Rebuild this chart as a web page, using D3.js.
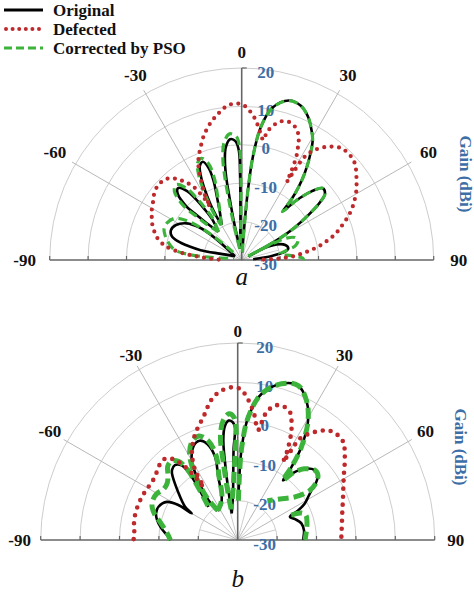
<!DOCTYPE html>
<html>
<head>
<meta charset="utf-8">
<script src="https://cdn.jsdelivr.net/npm/d3@7"></script>
<style>
  body { margin: 0; background: #fff; }
  svg { display: block; }
  text { font-family: "Liberation Serif", "Times New Roman", serif; }
</style>
</head>
<body>
<svg id="chart" width="474" height="594"></svg>
<script>
// ---- data: [angle (deg), gain (dBi)] ----
const legendLabels = ["Original", "Defected", "Corrected by PSO"];
const angleTicks = [-90, -60, -30, 0, 30, 60, 90];
const gainTicks = [-30, -20, -10, 0, 10, 20];
const captions = ["a", "b"];

// panel a
const aOriginal = [
  [[-9,-27],[-11.5,-20],[-11,-13],[-10.6,-8],[-9.5,-3.5],[-8,-0.3],[-5.5,1.6],[-3,1],[-1.5,-1.5],[-1.1,-7.5],[-1.3,-15],[-2.5,-22],[-9,-27]],
  [[-29.7,-19.5],[-24.9,-16.6],[-21.5,-12.5],[-19.5,-7.9],[-19.8,-4.5],[-21.6,-2.5],[-24,-3.2],[-26,-5.8],[-27.7,-9.4],[-29.3,-13.5],[-30,-17],[-29.7,-19.5]],
  [[-39.5,-20.5],[-36,-17],[-36.2,-13.5],[-36.9,-10.5],[-38.5,-7],[-41.5,-5],[-44,-6],[-45.9,-10],[-45,-13.5],[-43.6,-16.8],[-39.5,-20.5]],
  [[-60,-28],[-50.6,-20.4],[-52.5,-16],[-56.3,-12.8],[-62,-10.6],[-67,-10],[-71,-10.7],[-73.5,-12.5],[-75.5,-16],[-76.5,-19],[-74,-24],[-60,-28]],
  [[4,-28],[4.5,-20],[5.1,-11.7],[6.2,-2.9],[8.2,5],[11.5,10.5],[16.5,13.3],[21,13],[25,11],[28.5,8.2],[30.7,6.2],[33.5,2],[36,-2.1],[38,-6],[39.5,-10],[40.2,-13.5],[42.5,-9],[45.5,-4.5],[48.5,-1.8],[51.5,-2.3],[53.5,-4.5],[56,-9],[58.5,-14],[60.5,-19],[62,-28]],
  [[61,-28],[62,-23.5],[66,-20],[71,-18],[76,-17.5],[79,-18.5],[81,-20.5],[83,-22.6],[86,-27]]
];
const aDefected = [
  [[-89,-24],[-87,-20.9],[-85,-17.5],[-83.5,-14.7],[-80,-10.2],[-76.5,-7.8],[-72.9,-6.4],[-68.5,-5],[-64.3,-4],[-60,-3],[-55.8,-2.2],[-52,-1.2],[-48,-0.8],[-45,-0.9],[-42,-1.4],[-39.5,-2.5],[-37.6,-3.7],[-35.5,-5.2],[-33.4,-7.1],[-32,-9.5],[-31,-12],[-30.7,-13.9],[-29.5,-10.5],[-27.5,-7.5],[-26,-5],[-24.2,-2.4],[-22.5,-0.8],[-20.8,0.6],[-17,3.8],[-13,6.5],[-10.5,7.9],[-8.3,9],[-5.5,10.3],[-2.4,10.8],[0.5,10.4],[2.5,9.3],[5,7.3],[7.1,5],[9.2,2.5],[10.2,1.7],[11,3.5],[12.1,5],[15.5,7.4],[19,8],[22,7.3],[24,6.1],[25.5,4.5],[26.4,3],[27.9,0.4],[28.8,-2.3],[29.5,-4.5],[30,-6.5],[30.5,-3.5],[31.4,1.5],[33.6,4.4],[37.3,7.1],[41.7,9],[46.7,9.2],[50,8.6],[52.9,7.4],[55.7,6.2],[58.6,5],[62,3.3],[65.5,1.4],[68.5,-0.6],[71.5,-2.7],[74.5,-4.7],[77,-6.9],[79.5,-9.2],[81.8,-11.7],[84,-14.3],[86.2,-17],[88,-21],[89,-25]]
];
const aCorrected = [
  [[-10,-27],[-12.5,-20],[-12,-13],[-11.5,-8],[-10.5,-3],[-8.5,1],[-5.5,3],[-2.5,2.2],[-1,-1],[-0.6,-7.5],[-0.8,-15],[-2,-22],[-10,-27]],
  [[-30.5,-19.5],[-24,-16],[-20.5,-12],[-18.5,-7.5],[-19,-3.5],[-21.6,-1.5],[-24.5,-2.3],[-27,-5.5],[-28.7,-9.4],[-30.3,-13.5],[-31,-17],[-30.5,-19.5]],
  [[-39.5,-20.5],[-35,-17],[-35.2,-13.5],[-35.9,-10.5],[-37.5,-6.5],[-41,-4],[-44.5,-5],[-47,-9.5],[-46,-13.5],[-44.6,-16.8],[-39.5,-20.5]],
  [[-48,-27],[-50,-20],[-53.7,-13.3],[-58,-9.5],[-63.6,-8.3],[-68,-8.2],[-72,-9],[-77,-10.5],[-81.5,-12.4],[-84,-16],[-85,-22],[-80,-28]],
  [[4,-28],[4.5,-20],[5.1,-11.7],[6.2,-2.9],[8.2,5],[11.5,10.5],[16.5,13.3],[21,13],[25,11],[28.5,8.2],[30.7,6.2],[33.5,2],[36,-2.1],[38,-6],[39.5,-10],[40.2,-13.5],[42.5,-9],[45.5,-4.5],[48.5,-1.8],[51.5,-2.3],[53.5,-4.5],[56,-9],[58.5,-14],[60.5,-19],[62,-28]],
  [[60,-28],[62,-21],[64,-17],[67,-15],[71,-14.5],[75,-15.5],[78,-18],[81,-20],[85,-17],[88.5,-14],[90,-14]]
];

// panel b
const bOriginal = [
  [[-12.7,-23.1],[-11,-19],[-9.8,-13],[-8.2,-4.4],[-6.5,-1],[-4.3,0.4],[-2.5,0],[-1.4,-1.3],[-2.6,-7],[-3.8,-13],[-6,-18.5],[-12.7,-23.1]],
  [[-35,-21],[-36.3,-17.4],[-33,-11],[-29.9,-6.6],[-25,-3.6],[-21,-3],[-17.5,-4.5],[-15.2,-8.1],[-17,-13],[-20.3,-18.3],[-26,-20.3],[-35,-21]],
  [[-41.4,-18.8],[-37.5,-14.4],[-36,-9],[-37,-6.3],[-40,-5.2],[-43,-5.6],[-44.7,-6.3],[-51,-10.5],[-57.7,-14.2],[-59.9,-16.5],[-59.5,-12.5],[-61.7,-9.6],[-67.2,-8.2],[-72,-8.2],[-76,-8.9],[-81,-10.3],[-86,-12],[-90,-13]],
  [[1,-19],[1.5,-14],[2.5,-6.4],[4.9,1.3],[9.3,7.6],[15.7,11.2],[21.4,12.1],[26.2,9.5],[30.5,5.2],[34.4,-1.4],[36.4,-7],[37.2,-11],[39.5,-8],[43,-5.3],[47.8,-3.6],[51,-3.8],[54,-5.5],[56,-7.4],[58.5,-9],[61.4,-10.6],[64,-13],[66,-15.5],[70,-14.5],[75.4,-13.3],[82,-13],[86,-13.2],[90,-13.4]]
];
const bDefected = [
  [[-89.5,-3.6],[-86,-3.7],[-82,-3.4],[-77,-3.2],[-72,-3.2],[-67,-3.3],[-62,-3.5],[-57,-3.7],[-53,-3.6],[-49,-3],[-45.5,-2.4],[-42,-2.3],[-40,-2.9],[-38,-4.3],[-35.7,-7.1],[-34,-10.5],[-32.8,-14],[-31.4,-9.2],[-27.9,-5.2],[-24,-2.3],[-20,0],[-15.6,2.4],[-12.5,4.8],[-9.7,6.8],[-6,8.2],[-2.2,8.8],[0.5,8.5],[2.2,7.6],[4,6],[6,3.9],[8,1.5],[9.5,-0.9],[10.6,-1.6],[11.5,0.5],[12.7,3.3],[14.5,4.8],[16.1,5.6],[18.1,5.9],[20,5.7],[22.2,5.1],[24.2,3.3],[26.1,1],[27.5,-1.2],[28.5,-3.1],[29.5,-5],[30.2,-7.1],[30.8,-3.5],[31.5,0.2],[33.5,2.2],[35.5,3.7],[37.5,5],[39.5,6.1],[42.5,6.7],[45.6,6.8],[48,6.3],[50.5,5.2],[54.4,3.4],[58,1.8],[62,0.4],[67.7,-1.1],[72,-2],[77,-2.8],[82,-3.3],[86,-3.6],[89.5,-3.7]]
];
const bCorrected = [
  [[-12,-22],[-11.5,-17],[-10.5,-10],[-9.5,-3.5],[-7,0.5],[-4,2.1],[-1.8,1.2],[-0.8,-2],[-1.5,-7],[-3,-12.5],[-5.5,-17.5],[-12,-22]],
  [[-34,-21],[-36,-16.5],[-33,-10],[-29.5,-5.2],[-25,-2.5],[-20.5,-1.8],[-16.5,-3.8],[-14.3,-8],[-16.3,-13],[-19.5,-18],[-26,-20],[-34,-21]],
  [[-41,-18.5],[-37,-13.5],[-35.5,-8],[-37,-5],[-40,-3.8],[-43.5,-4.2],[-47,-5.8],[-51,-7],[-55.5,-7.2],[-60.5,-6.3],[-65,-6.2],[-68.8,-6.7],[-73,-8],[-77,-9.8],[-82,-11.4],[-86,-12.3],[-90,-12.9]],
  [[1,-20],[1.5,-14],[2.5,-6.4],[4.9,1.3],[9.3,7.6],[15.7,11.2],[21.4,12.1],[26.2,9.5],[30.5,5.2],[34.4,-1.4],[36.4,-7],[37.2,-11],[39.5,-8],[43,-5.3],[47.8,-3.6],[51,-3.8],[54,-5.5],[55.5,-8],[53,-11.8],[46,-15],[37,-17.5]],
  [[65,-15],[67,-12.5],[70,-11.6],[75,-11.8],[80,-12.2],[85,-12.6],[90,-12.9]]
];

// ---- styles ----
const RED = "#be2a2c", GREEN = "#3cb43c", BLUE = "#3d6ea6", AXIS = "#666", GRID = "#cdcdcd";

const svg = d3.select("#chart");

const panels = [
  { cx: 241.7, cy: 260, R: 192, labOff: 16, gainDx: 24, capY: 276, titleX: 465, titleY: 174,
    orig: aOriginal, def: aDefected, corr: aCorrected, greenW: 3.2, greenDash: "9 5", redW: 4.2, redDash: "0 7.4" },
  { cx: 237.7, cy: 540, R: 197, labOff: 12, gainDx: 27, capY: 578, titleX: 460, titleY: 447,
    orig: bOriginal, def: bDefected, corr: bCorrected, greenW: 5, greenDash: "11 5", redW: 4.6, redDash: "0 8" }
];

panels.forEach((p, i) => {
  const r = d3.scaleLinear().domain([-30, 20]).range([0, p.R]);
  const ang = d3.scaleLinear().domain([-90, 90]).range([-Math.PI / 2, Math.PI / 2]);
  const pt = (deg, rad) => [rad * Math.sin(ang(deg)), -rad * Math.cos(ang(deg))];

  const g = svg.append("g").attr("transform", `translate(${p.cx},${p.cy})`);

  // rings
  g.selectAll("path.ring")
    .data(gainTicks.slice(1))
    .join("path")
    .attr("class", "ring")
    .attr("d", v => { const pa = d3.path(); pa.moveTo(-r(v), 0); pa.arc(0, 0, r(v), Math.PI, 2 * Math.PI); return pa.toString(); })
    .attr("fill", "none").attr("stroke", GRID).attr("stroke-width", 1);

  // minor spokes inside the first ring
  g.selectAll("line.minor")
    .data([-75, -45, -15, 15, 45, 75])
    .join("line")
    .attr("x1", 0).attr("y1", 0)
    .attr("x2", d => pt(d, r(-20))[0]).attr("y2", d => pt(d, r(-20))[1])
    .attr("stroke", GRID).attr("stroke-width", 1);

  // major spokes
  g.selectAll("line.major")
    .data(angleTicks.filter(d => Math.abs(d) !== 90 && d !== 0))
    .join("line")
    .attr("x1", 0).attr("y1", 0)
    .attr("x2", d => pt(d, p.R + 4)[0]).attr("y2", d => pt(d, p.R + 4)[1])
    .attr("stroke", "#b8b8b8").attr("stroke-width", 1);

  // horizontal axis with ticks at each ring
  g.append("line").attr("x1", -p.R).attr("x2", p.R).attr("y1", 0).attr("y2", 0)
    .attr("stroke", AXIS).attr("stroke-width", 1.6);
  const tickR = gainTicks.slice(1).flatMap(v => [-r(v), r(v)]);
  g.selectAll("line.htick").data(tickR).join("line")
    .attr("x1", d => d).attr("x2", d => d).attr("y1", 0).attr("y2", -4)
    .attr("stroke", AXIS).attr("stroke-width", 1.2);

  // vertical axis
  g.append("line").attr("x1", 0).attr("x2", 0).attr("y1", 0).attr("y2", -p.R)
    .attr("stroke", AXIS).attr("stroke-width", 1.6);
  g.append("line").attr("x1", 0).attr("x2", 5).attr("y1", -p.R).attr("y2", -p.R)
    .attr("stroke", AXIS).attr("stroke-width", 1.2);

  // gain tick labels
  g.selectAll("text.gain").data(gainTicks).join("text")
    .attr("x", p.gainDx).attr("y", v => -r(v) + 4)
    .attr("text-anchor", "middle").attr("dominant-baseline", "central")
    .attr("font-size", 17).attr("font-weight", "bold").attr("fill", BLUE)
    .text(v => v);

  // angle labels
  g.selectAll("text.ang").data(angleTicks).join("text")
    .attr("x", d => pt(d, p.R + p.labOff + 9 * Math.abs(Math.sin(ang(d))))[0])
    .attr("y", d => pt(d, p.R + p.labOff + 9 * Math.abs(Math.sin(ang(d))))[1])
    .attr("text-anchor", "middle").attr("dominant-baseline", "central")
    .attr("font-size", 17).attr("font-weight", "bold").attr("fill", "#111")
    .text(d => d);

  const line = d3.lineRadial()
    .angle(d => ang(d[0]))
    .radius(d => r(d[1]))
    .curve(d3.curveCatmullRom.alpha(0.5));

  // series
  g.selectAll("path.orig").data(p.orig).join("path")
    .attr("d", line).attr("fill", "none").attr("stroke", "#000")
    .attr("stroke-width", 2.6).attr("stroke-linejoin", "round");
  g.selectAll("path.corr").data(p.corr).join("path")
    .attr("d", line).attr("fill", "none").attr("stroke", GREEN)
    .attr("stroke-width", p.greenW).attr("stroke-dasharray", p.greenDash);
  g.selectAll("path.def").data(p.def).join("path")
    .attr("d", line).attr("fill", "none").attr("stroke", RED)
    .attr("stroke-width", p.redW).attr("stroke-dasharray", p.redDash)
    .attr("stroke-linecap", "round");

  // caption
  svg.append("text").attr("x", p.cx).attr("y", p.capY)
    .attr("text-anchor", "middle").attr("dominant-baseline", "central")
    .attr("font-size", 25).attr("font-style", "italic").attr("fill", "#111")
    .text(captions[i]);

  // radial title
  svg.append("text")
    .attr("transform", `translate(${p.titleX},${p.titleY}) rotate(90)`)
    .attr("text-anchor", "middle").attr("dominant-baseline", "central")
    .attr("font-size", 17).attr("font-weight", "bold").attr("fill", BLUE)
    .text("Gain (dBi)");
});

// legend
const legendStyles = [
  { stroke: "#000", w: 3, dash: null, cap: "butt" },
  { stroke: RED, w: 4, dash: "0 6.6", cap: "round" },
  { stroke: GREEN, w: 3, dash: "8 4", cap: "butt" }
];
const leg = svg.append("g");
legendLabels.forEach((lab, i) => {
  const y = 10 + i * 19;
  const s = legendStyles[i];
  leg.append("line").attr("x1", i === 1 ? 6 : 4).attr("x2", 43).attr("y1", y).attr("y2", y)
    .attr("stroke", s.stroke).attr("stroke-width", s.w)
    .attr("stroke-dasharray", s.dash).attr("stroke-linecap", s.cap);
  leg.append("text").attr("x", 53).attr("y", y).attr("dominant-baseline", "central")
    .attr("font-size", 17).attr("font-weight", "bold").attr("fill", "#111")
    .text(lab);
});
</script>
</body>
</html>
